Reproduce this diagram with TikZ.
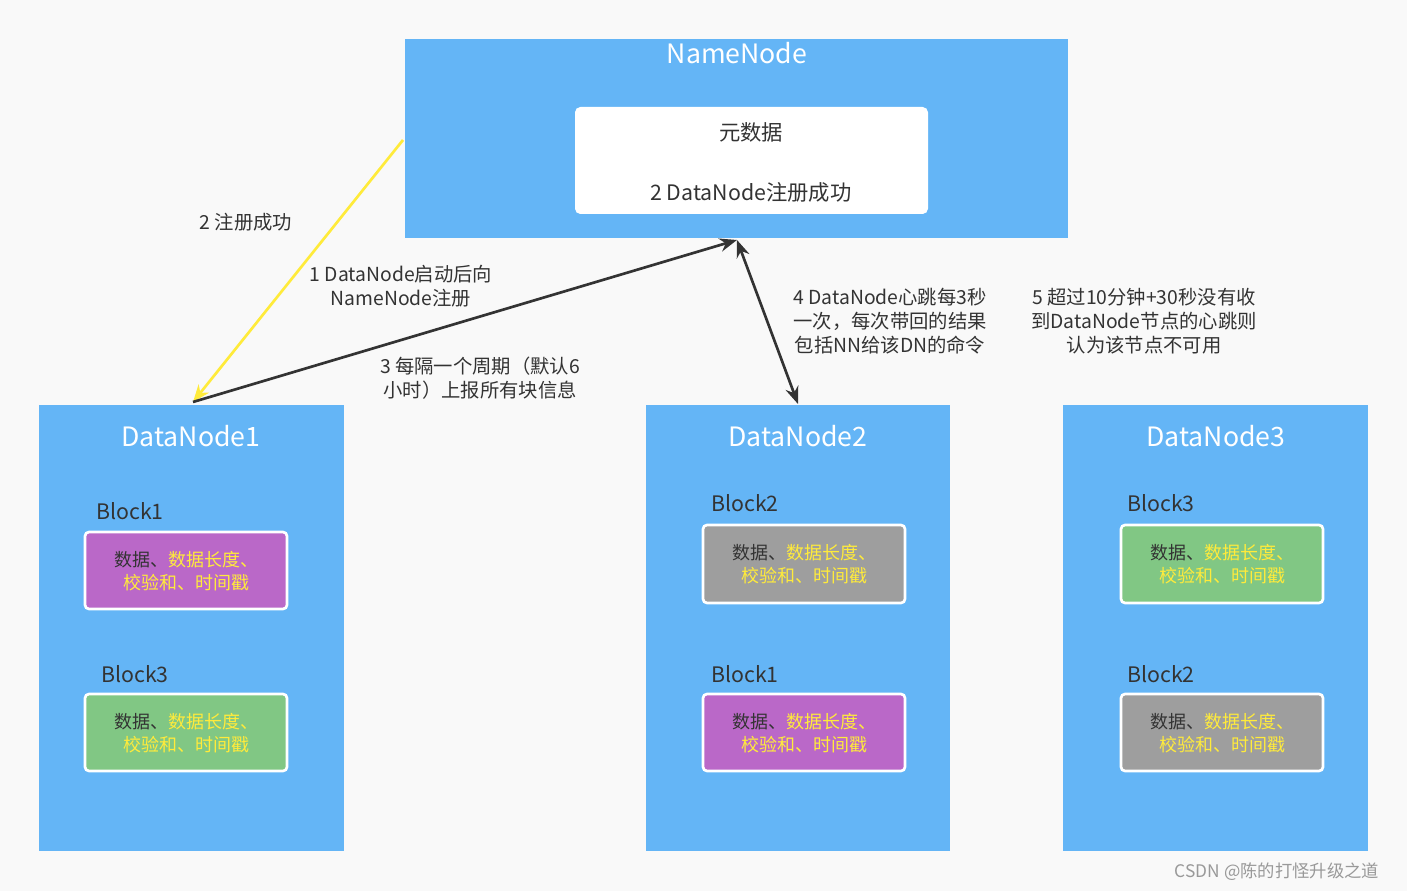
\documentclass[tikz,border=0pt]{standalone}
\usepackage{fontspec}
\setmainfont{Noto Sans CJK SC}
\usetikzlibrary{arrows.meta}
\definecolor{bg}{HTML}{F9F9F9}
\definecolor{nblue}{HTML}{64B5F6}
\definecolor{bpurple}{HTML}{BA68C8}
\definecolor{bgreen}{HTML}{81C784}
\definecolor{bgray}{HTML}{9E9E9E}
\definecolor{ylw}{HTML}{FFEB3B}
\definecolor{txt}{HTML}{333333}
\begin{document}
\begin{tikzpicture}[x=0.75pt,y=-0.75pt,
  node/.style={fill=nblue,draw=none},
  title/.style={text=white,font=\fontsize{20}{24}\selectfont},
  lbl/.style={text=txt,font=\fontsize{14.5}{18}\selectfont,align=center},
  blab/.style={text=txt,font=\fontsize{16}{19}\selectfont},
  blk/.style={draw=white,line width=2pt,rounded corners=3pt},
  btxt/.style={font=\fontsize{13.5}{17}\selectfont,align=center},
  arr/.style={line width=2pt,-{Stealth[length=13pt,width=10pt]}}]
\fill[bg] (0,0) rectangle (1407,891);
\useasboundingbox (0,0) rectangle (1407,891);
% NameNode
\fill[node] (405,39) rectangle (1068,238);
\coordinate (nnL) at (403,140);
\coordinate (nnB) at (737,240);
\node[title] (nnt) at (737,53) {NameNode};
\fill[white,rounded corners=4pt] (575,107) rectangle (928,214);
\node[lbl,font=\fontsize{16}{19}\selectfont] (meta) at (751,132) {元数据};
\node[lbl,font=\fontsize{16}{19}\selectfont] (reg) at (751,192) {2 DataNode注册成功};
% DataNodes
\fill[node] (39,405) rectangle (344,851);
\fill[node] (646,405) rectangle (950,851);
\fill[node] (1063,405) rectangle (1368,851);
\coordinate (d1) at (193,402);
\coordinate (d2) at (798,404);
\node[title] (t1) at (191,436) {DataNode1};
\node[title] (t2) at (798,436) {DataNode2};
\node[title] (t3) at (1216,436) {DataNode3};
\newcommand{\blocktext}{{\color{txt}数据、}{\color{ylw}数据长度、}\\{\color{ylw}校验和、时间戳}}
% DN1
\node[blab] (l11) at (130,511) {Block1};
\draw[blk,fill=bpurple] (85,532) rectangle (287,609);
\node[btxt] (b11) at (186,571) {\blocktext};
\node[blab] (l12) at (135,674) {Block3};
\draw[blk,fill=bgreen] (85,694) rectangle (287,771);
\node[btxt] (b12) at (186,733) {\blocktext};
% DN2
\node[blab] (l21) at (745,503) {Block2};
\draw[blk,fill=bgray] (703,525) rectangle (905,603);
\node[btxt] (b21) at (804,564) {\blocktext};
\node[blab] (l22) at (745,674) {Block1};
\draw[blk,fill=bpurple] (703,694) rectangle (905,771);
\node[btxt] (b22) at (804,733) {\blocktext};
% DN3
\node[blab] (l31) at (1161,503) {Block3};
\draw[blk,fill=bgreen] (1121,525) rectangle (1323,603);
\node[btxt] (b31) at (1222,564) {\blocktext};
\node[blab] (l32) at (1161,674) {Block2};
\draw[blk,fill=bgray] (1121,694) rectangle (1323,771);
\node[btxt] (b32) at (1222,733) {\blocktext};
% arrows
\draw[arr,color=ylw] (nnL) -- (d1);
\draw[arr,color=txt] (d1) -- (nnB);
\draw[arr,color=txt,{Stealth[length=13pt,width=10pt]}-{Stealth[length=13pt,width=10pt]}] (nnB) -- (d2);
% labels
\node[lbl] (a2) at (246,222) {2 注册成功};
\node[lbl] (a1) at (401,286) {1 DataNode启动后向\\NameNode注册};
\node[lbl] (a3) at (480,378) {3 每隔一个周期（默认6\\小时）上报所有块信息};
\node[lbl] (a4) at (890,321) {4 DataNode心跳每3秒\\一次，每次带回的结果\\包括NN给该DN的命令};
\node[lbl] (a5) at (1144,321) {5 超过10分钟+30秒没有收\\到DataNode节点的心跳则\\认为该节点不可用};
\node[text=gray!80,font=\fontsize{13}{16}\selectfont] (wm) at (1277,872) {CSDN @陈的打怪升级之道};
\end{tikzpicture}
\end{document}
